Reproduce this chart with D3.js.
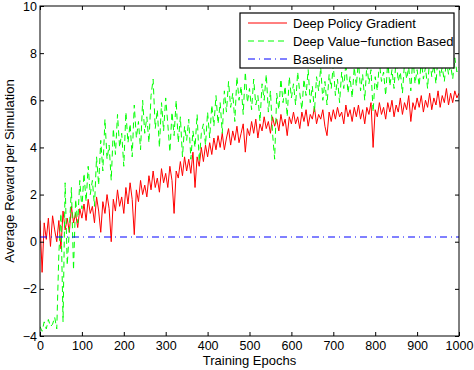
<!DOCTYPE html>
<html>
<head>
<meta charset="utf-8">
<script src="https://cdn.jsdelivr.net/npm/d3@7"></script>
<style>
  body { margin: 0; background: #fff; }
  text { font-family: "Liberation Sans", Arial, sans-serif; }
</style>
</head>
<body>
<div class="container"></div>
<script>
const WIDTH = 474;
const HEIGHT = 370;
const LEFT = 40, RIGHT = 459, TOP = 6, BOTTOM = 336;

// epochs sampled every 5
var epochs = d3.range(0, 1001, 5);

var policyGradient = [
    0.9, -1.3, 0.8, 0.1, 1.0, -0.2, 1.1, 0.5, 0.0, 0.9,
    -0.3, 1.3, 0.5, 1.0, 0.4, 1.5, 0.8, 1.2, 0.6, 1.4,
    1.0, 1.6, 0.9, 1.8, 1.2, 1.5, 0.8, 1.9, 1.3, 0.4,
    1.7, 1.2, 2.0, 1.4, 0.0, 1.8, 1.3, 2.2, 1.5, 1.9,
    1.2, 2.3, 1.6, 2.5, 1.8, 0.3, 2.2, 1.7, 2.6, 2.0,
    2.4, 1.9, 2.8, 2.2, 3.0, 2.3, 2.7, 2.1, 3.1, 2.5,
    2.9, 2.3, 3.2, 2.6, 1.2, 3.0, 2.7, 3.4, 2.8, 3.6,
    3.0, 3.5, 2.9, 3.8, 2.3, 3.6, 3.2, 4.0, 3.4, 4.1,
    3.6, 4.2, 3.7, 4.4, 3.9, 4.5, 4.0, 4.6, 3.9, 4.4,
    4.8, 4.1, 4.7, 4.3, 4.9, 4.2, 4.6, 5.0, 3.8, 4.8,
    4.5, 5.1, 4.6, 5.2, 4.4, 5.0, 4.7, 5.3, 4.8, 5.1,
    4.6, 5.3, 4.9, 5.2, 4.7, 5.4, 4.9, 5.2, 4.5, 5.3,
    5.0, 5.5, 5.0, 5.3, 4.8, 5.5, 5.1, 5.6, 4.9, 5.4,
    5.2, 5.7, 5.0, 5.4, 5.2, 5.6, 4.9, 4.5, 5.5, 5.1,
    5.6, 5.2, 5.7, 5.3, 5.5, 5.0, 5.8, 5.3, 5.6, 5.1,
    5.7, 5.3, 5.8, 5.2, 5.6, 5.0, 5.7, 5.4, 5.9, 4.0,
    5.6, 5.3, 5.9, 5.4, 5.7, 5.2, 5.9, 5.5, 6.0, 5.3,
    5.8, 5.5, 6.1, 5.4, 5.9, 5.6, 6.2, 5.1, 5.9, 5.6,
    6.1, 5.7, 6.2, 5.5, 6.0, 5.7, 6.3, 5.6, 6.1, 5.8,
    6.4, 5.7, 6.2, 5.9, 6.5, 5.8, 6.3, 5.9, 6.4, 6.1,
    6.3
];

var valueBased = [
    -3.6, -3.8, -3.4, -3.7, -3.3, -3.6, -3.5, -3.2, -3.7, -0.5,
    1.2, -3.4, 2.5, -1.0, 0.5, 2.3, -1.2, 1.8, 0.8, 2.6,
    1.4, 2.9, 1.7, 3.2, 2.0, 2.6, 1.5, 3.6, 2.4, 4.3,
    3.0, 5.2, 3.5, 4.1, 2.6, 4.8, 3.7, 5.4, 4.0, 4.6,
    3.2, 5.5, 4.2, 5.0, 3.6, 5.8, 4.4, 5.1, 3.9, 6.0,
    4.6, 5.3, 4.2, 6.2, 6.9, 4.8, 5.6, 4.0, 5.9, 4.7,
    6.1, 5.0, 3.8, 5.5, 4.5, 6.0, 4.2, 5.3, 3.6, 4.9,
    4.3, 5.2, 3.5, 4.7, 4.0, 5.4, 3.4, 4.6, 5.0, 4.1,
    5.5, 4.4, 5.8, 4.9, 6.2, 5.0, 5.9, 4.6, 6.4, 5.5,
    6.8, 5.7, 6.3, 5.1, 7.0, 6.0, 6.6, 5.4, 7.2, 5.9,
    6.5, 5.6, 6.9, 5.8, 6.2, 5.1, 6.7, 6.0, 7.1, 5.5,
    6.4, 4.6, 3.5, 6.3, 5.6, 6.9, 5.9, 6.6, 5.3, 7.0,
    6.1, 6.7, 5.8, 7.2, 6.3, 5.6, 6.9, 6.2, 7.3, 5.9,
    6.6, 5.5, 7.0, 6.4, 7.4, 6.0, 6.8, 5.8, 7.1, 6.5,
    7.5, 6.2, 6.9, 5.9, 7.2, 6.5, 7.6, 6.3, 7.0, 6.1,
    7.4, 6.6, 7.7, 6.4, 7.1, 6.0, 7.5, 6.7, 7.3, 5.5,
    7.0, 6.4, 7.6, 6.8, 7.2, 6.2, 7.7, 6.6, 7.3, 6.5,
    7.8, 6.8, 7.2, 6.3, 7.6, 6.9, 7.4, 6.4, 7.9, 6.7,
    7.3, 6.6, 7.7, 6.9, 7.4, 6.5, 7.8, 7.0, 7.5, 6.7,
    7.9, 7.0, 7.4, 6.8, 7.7, 7.1, 7.5, 6.9, 7.8, 7.2,
    7.4
];

var baselineEpochs = [0, 1000];
var baselineValues = [0.2, 0.2];

var xTicks = [0, 100, 200, 300, 400, 500, 600, 700, 800, 900, 1000];
var yTicks = [-4, -2, 0, 2, 4, 6, 8, 10];

var legendLabels = ["Deep Policy Gradient", "Deep Value\u2212function Based", "Baseline"];

var series = [
    {name: legendLabels[0], x: epochs, y: policyGradient, color: "#ff0000", dash: null},
    {name: legendLabels[1], x: epochs, y: valueBased, color: "#00ff00", dash: "6,4"},
    {name: legendLabels[2], x: baselineEpochs, y: baselineValues, color: "#0000ff", dash: "7,4,1,4"}
];

var translate = function (x, y) {
    return "translate(" + x + "," + y + ")";
};

var _xScale = d3.scaleLinear().domain([0, 1000]).range([LEFT, RIGHT]);
var _yScale = d3.scaleLinear().domain([-4, 10]).range([BOTTOM, TOP]);

var svg = d3.select('.container').append('svg')
    .attr('width', WIDTH)
    .attr('height', HEIGHT);

svg.append("defs").append("clipPath").attr("id", "plotclip")
    .append("rect")
    .attr("x", LEFT).attr("y", TOP)
    .attr("width", RIGHT - LEFT).attr("height", BOTTOM - TOP);

var lineGen = function (s) {
    return d3.line()
        .x(function (d, i) { return _xScale(s.x[i]); })
        .y(function (d) { return _yScale(d); })(s.y);
};

var plot = svg.append("g").attr("clip-path", "url(#plotclip)");
series.forEach(function (s) {
    plot.append("path")
        .attr("d", lineGen(s))
        .attr("fill", "none")
        .attr("stroke", s.color)
        .attr("stroke-width", 1)
        .attr("stroke-dasharray", s.dash);
});

// axes, MATLAB style: ticks inside, box around
var fmt = d3.format("d");
svg.append("g").attr("transform", translate(0, BOTTOM))
    .call(d3.axisBottom(_xScale).tickValues(xTicks).tickSizeInner(-4).tickSizeOuter(0).tickPadding(5).tickFormat(fmt));
svg.append("g").attr("transform", translate(0, TOP))
    .call(d3.axisTop(_xScale).tickValues(xTicks).tickSizeInner(-4).tickSizeOuter(0).tickFormat(""));
svg.append("g").attr("transform", translate(LEFT, 0))
    .call(d3.axisLeft(_yScale).tickValues(yTicks).tickSizeInner(-4).tickSizeOuter(0).tickPadding(3).tickFormat(fmt));
svg.append("g").attr("transform", translate(RIGHT, 0))
    .call(d3.axisRight(_yScale).tickValues(yTicks).tickSizeInner(-4).tickSizeOuter(0).tickFormat(""));

svg.selectAll(".domain").remove();
svg.selectAll(".tick line").attr("stroke", "#000");
svg.selectAll(".tick text")
    .attr("fill", "#000")
    .style("font-size", "12.5px")
    .style("font-family", "'Liberation Sans', Arial, sans-serif");

svg.append("rect")
    .attr("x", LEFT).attr("y", TOP)
    .attr("width", RIGHT - LEFT).attr("height", BOTTOM - TOP)
    .attr("fill", "none").attr("stroke", "#000").attr("stroke-width", 1);

svg.append("text")
    .attr("x", (LEFT + RIGHT) / 2).attr("y", 365)
    .attr("text-anchor", "middle")
    .style("font-size", "13px")
    .text("Training Epochs");

svg.append("text")
    .attr("transform", translate(14, (TOP + BOTTOM) / 2) + " rotate(-90)")
    .attr("text-anchor", "middle")
    .style("font-size", "13px")
    .text("Average Reward per Simulation");

// legend
var legend = svg.append("g").attr("transform", translate(240, 13));
legend.append("rect")
    .attr("width", 214).attr("height", 55)
    .attr("fill", "#fff").attr("stroke", "#000").attr("stroke-width", 1.2);

var rows = legend.selectAll(".row").data(series).enter().append("g")
    .attr("class", "row")
    .attr("transform", function (d, i) { return translate(0, 10 + i * 18); });
rows.append("line")
    .attr("x1", 8).attr("x2", 47)
    .attr("stroke", function (d) { return d.color; })
    .attr("stroke-width", 1)
    .attr("stroke-dasharray", function (d) { return d.dash; });
rows.append("text")
    .attr("x", 53).attr("dy", "0.35em")
    .style("font-size", "13px")
    .text(function (d) { return d.name; });
</script>
</body>
</html>
